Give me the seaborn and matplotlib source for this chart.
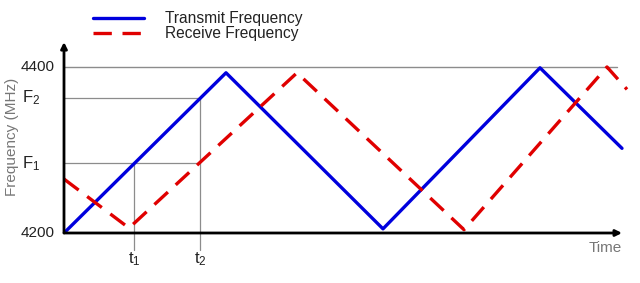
import matplotlib
matplotlib.use("Agg")
import matplotlib.pyplot as plt
import seaborn as sns
import pandas as pd

# ---- data ----
tx_time = [0.0, 16.2, 31.9, 47.6, 55.8]
tx_freq = [4200, 4393, 4205, 4399, 4302]
rx_time = [0.0, 6.5, 23.3, 40.0, 54.3, 56.3]
rx_freq = [4265, 4206, 4393, 4204, 4400, 4373]
series_names = ["Transmit Frequency", "Receive Frequency"]
t_marks = [7.0, 13.6]
t_labels = [r"t$_1$", r"t$_2$"]
f_marks = [4284, 4363]
f_labels = [r"F$_1$", r"F$_2$"]
ytick_vals = [4200, 4400]
ytick_labels = ["4200", "4400"]

sns.set_style("white")
plt.rcParams["font.family"] = ["Liberation Sans", "DejaVu Sans"]
plt.rcParams["mathtext.default"] = "regular"

W, H = 640, 283
fig = plt.figure(figsize=(W / 100, H / 100), dpi=100)
ax = fig.add_axes([64 / W, 1 - 233 / H, (630 - 64) / W, (233 - 40) / H])
ax.set_xlim(0, 56.6)
ax.set_ylim(4200, 4432.5)

df = pd.concat([
    pd.DataFrame({"time": tx_time, "freq": tx_freq, "series": series_names[0]}),
    pd.DataFrame({"time": rx_time, "freq": rx_freq, "series": series_names[1]}),
])

grid_c = "#8c8c8c"
# guide lines
ax.plot([0, 55.3], [4400, 4400], color=grid_c, lw=1, zorder=1, clip_on=False)
for f in f_marks:
    ax.plot([0, t_marks[1]], [f, f], color=grid_c, lw=0.9, zorder=1)
for t, f in zip(t_marks, f_marks):
    ax.plot([t, t], [f, 4179.5], color=grid_c, lw=0.9, zorder=1, clip_on=False)

sns.lineplot(data=df, x="time", y="freq", hue="series", style="series",
             palette={series_names[0]: "#0000dd", series_names[1]: "#e00000"},
             dashes={series_names[0]: "", series_names[1]: (5.5, 3.2)},
             linewidth=2.4, ax=ax, legend=True, sort=False, zorder=3)
for ln in ax.get_lines()[-2:]:
    ln.set_clip_on(False)

# axes arrows
for s in ax.spines.values():
    s.set_visible(False)
ax.annotate("", xy=(55.8, 4200), xytext=(0, 4200),
            arrowprops=dict(arrowstyle="-|>", color="black", lw=2, mutation_scale=9,
                            shrinkA=0, shrinkB=0), annotation_clip=False, zorder=4)
ax.annotate("", xy=(0, 4430), xytext=(0, 4200),
            arrowprops=dict(arrowstyle="-|>", color="black", lw=2, mutation_scale=9,
                            shrinkA=0, shrinkB=0), annotation_clip=False, zorder=4)

ax.set_xticks([])
ax.set_yticks([])
ax.set_xlabel("")
ax.set_ylabel("")

txt_c = "#222222"
fs = 11
for v, lab in zip(ytick_vals, ytick_labels):
    ax.text(-0.9, v, lab, ha="right", va="center", fontsize=fs, color=txt_c)
for v, lab in zip(f_marks, f_labels):
    ax.text(-2.4, v, lab, ha="right", va="center", fontsize=fs + 1, color=txt_c)
for t, lab in zip(t_marks, t_labels):
    ax.text(t, 4168, lab, ha="center", va="center", fontsize=fs + 1, color=txt_c)

ax.text(55.8, 4182, "Time", ha="right", va="center", fontsize=fs, color="#777777")
fig.text(12 / W, 1 - 137 / H, "Frequency (MHz)", rotation=90, ha="center", va="center",
         fontsize=fs, color="#777777")

handles, labels = ax.get_legend_handles_labels()
ax.legend(handles=handles, labels=labels, loc="upper left",
          bbox_to_anchor=(93 / W, 1 - 11 / H), bbox_transform=fig.transFigure,
          frameon=False, fontsize=11.2, handlelength=3.3, handletextpad=1.3,
          labelspacing=0.0, borderpad=0, borderaxespad=0,
          labelcolor=txt_c)
for ln in ax.get_legend().get_lines():
    ln.set_linewidth(2.4)

fig.savefig("out.png", dpi=100)
